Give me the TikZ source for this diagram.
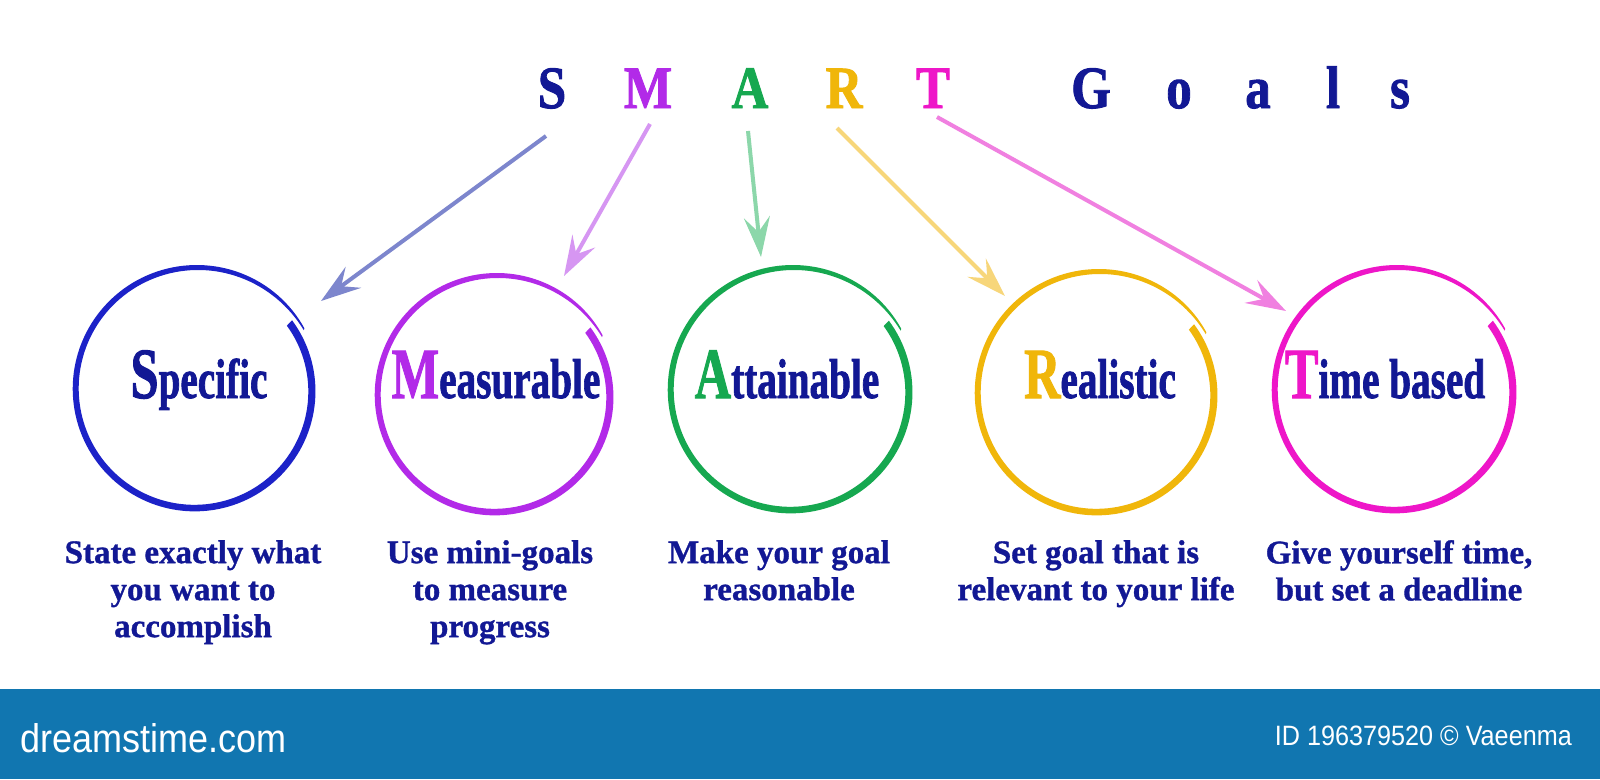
\documentclass[tikz,border=0pt]{standalone}
\usepackage{fontspec}
\setmainfont{Liberation Serif}
\newfontfamily\heavyfont{Liberation Serif}[UprightFont={* Bold}, BoldFont={* Bold}, FakeBold=1.6]
\newfontfamily\descfont{Liberation Serif}[UprightFont={* Bold}, BoldFont={* Bold}, FakeBold=1]
\newfontfamily\bannerfont{Liberation Sans}[FakeStretch=0.9]
\usetikzlibrary{arrows.meta}

\definecolor{navy}{RGB}{18,24,148}
\definecolor{sblue}{RGB}{28,34,200}
\definecolor{mpurple}{RGB}{178,42,232}
\definecolor{agreen}{RGB}{22,168,80}
\definecolor{rgold}{RGB}{240,182,10}
\definecolor{tpink}{RGB}{238,22,200}
\definecolor{sarrow}{RGB}{125,134,205}
\definecolor{marrow}{RGB}{214,150,242}
\definecolor{aarrow}{RGB}{140,215,170}
\definecolor{rarrow}{RGB}{247,214,122}
\definecolor{tarrow}{RGB}{240,128,224}
\definecolor{banner}{RGB}{17,118,176}

% brush-like ring round a node: node, radius, colour
\newcommand{\brushring}[3]{%
  \begin{scope}[shift={(#1)}]
    \fill[#3] plot[domain=0:1, samples=150, variable=\t]
        ({(#2-4+9*\t+(3.7-1.2*\t-1.8*\t^12))*cos(36-367*\t)}, {-(#2-4+9*\t+(3.7-1.2*\t-1.8*\t^12))*sin(36-367*\t)})
      -- plot[domain=1:0, samples=150, variable=\t]
        ({(#2-4+9*\t-(3.7-1.2*\t-1.8*\t^12))*cos(36-367*\t)}, {-(#2-4+9*\t-(3.7-1.2*\t-1.8*\t^12))*sin(36-367*\t)})
      -- cycle;
  \end{scope}}
% ring label: big coloured initial, narrow bold rest
\newcommand{\ringtext}[3]{\scalebox{0.7}[1]{{\fontsize{72}{72}\selectfont\color{#1}#2}#3}}
\newcommand{\ttlletter}[1]{\scalebox{0.85}[1]{#1}}

\tikzset{
  ttl/.style={font=\heavyfont\fontsize{60}{60}\selectfont, anchor=base, inner sep=0},
  ring/.style={circle, minimum size=236pt, inner sep=0},
  lbl/.style={font=\heavyfont\fontsize{56}{56}\selectfont, text=navy, anchor=base, inner sep=0},
  desc/.style={font=\descfont\fontsize{33}{37}\selectfont, text=navy, align=center, anchor=north, inner sep=0},
  arr/.style={line width=4pt, -{Stealth[length=40pt, width=26pt, inset=15pt]}},
}

\begin{document}
\begin{tikzpicture}[x=1pt,y=-1pt]
        \useasboundingbox (0,0) rectangle (1600,779);
        \fill[white] (0,0) rectangle (1600,779);
        % Title
        \node[ttl, text=navy]    (tS) at (552,108) {\ttlletter{S}};
        \node[ttl, text=mpurple] (tM) at (648,108) {\ttlletter{M}};
        \node[ttl, text=agreen]  (tA) at (750,108) {\ttlletter{A}};
        \node[ttl, text=rgold]   (tR) at (844,108) {\ttlletter{R}};
        \node[ttl, text=tpink]   (tT) at (933,108) {\ttlletter{T}};
        \node[ttl, text=navy]    (gG) at (1091,108) {\ttlletter{G}};
        \node[ttl, text=navy]    (go) at (1179,108) {\ttlletter{o}};
        \node[ttl, text=navy]    (ga) at (1258,108) {\ttlletter{a}};
        \node[ttl, text=navy]    (gl) at (1333,108) {\ttlletter{l}};
        \node[ttl, text=navy]    (gs) at (1400,108) {\ttlletter{s}};
        % Rings
        \node[ring] (spec) at (196,390) {};
        \node[ring] (meas) at (496,396) {};
        \node[ring] (atta) at (792,391) {};
        \node[ring] (real) at (1098,394) {};
        \node[ring] (time) at (1396,391) {};
        \brushring{spec}{119}{sblue}
        \brushring{meas}{117}{mpurple}
        \brushring{atta}{120}{agreen}
        \brushring{real}{119}{rgold}
        \brushring{time}{120}{tpink}
        \node[lbl] (specl) at (199,398) {\ringtext{navy}{S}{pecific}};
        \node[lbl] (measl) at (496,398) {\ringtext{mpurple}{M}{easurable}};
        \node[lbl] (attal) at (787,398) {\ringtext{agreen}{A}{ttainable}};
        \node[lbl] (reall) at (1100,398) {\ringtext{rgold}{R}{ealistic}};
        \node[lbl] (timel) at (1385,398) {\ringtext{tpink}{T}{ime based}};
        % Arrows
        \coordinate (spec-in) at (321,301);
        \coordinate (meas-in) at (564,276);
        \coordinate (atta-in) at (761,257);
        \coordinate (real-in) at (1005,296);
        \coordinate (time-in) at (1286,311);
        \draw[arr, sarrow] ([shift={(-6,28)}]tS.base) -- (spec-in);
        \draw[arr, marrow] ([shift={(2,16)}]tM.base) -- (meas-in);
        \draw[arr, aarrow] ([shift={(-2,23)}]tA.base) -- (atta-in);
        \draw[arr, rarrow] ([shift={(-7,20)}]tR.base) -- (real-in);
        \draw[arr, tarrow] ([shift={(4,9)}]tT.base) -- (time-in);
        % Descriptions
        \node[desc] (specd) at (193,540) {State exactly what\\you want to\\accomplish};
        \node[desc] (measd) at (490,540) {Use mini-goals\\to measure\\progress};
        \node[desc] (attad) at (779,540) {Make your goal\\reasonable};
        \node[desc] (reald) at (1096,540) {Set goal that is\\relevant to your life};
        \node[desc] (timed) at (1399,540) {Give yourself time,\\but set a deadline};
        % Banner
        \fill[banner] (0,689) rectangle (1600,779);
        \node[anchor=base west, inner sep=0, text=white, font=\bannerfont\fontsize{40}{40}\selectfont] (site) at (20,752) {dreamstime.com};
        \node[anchor=base east, inner sep=0, text=white, font=\bannerfont\fontsize{28}{28}\selectfont] (imgid) at (1572,745) {ID 196379520 \textcopyright{} Vaeenma};
    \end{tikzpicture}
\end{document}
